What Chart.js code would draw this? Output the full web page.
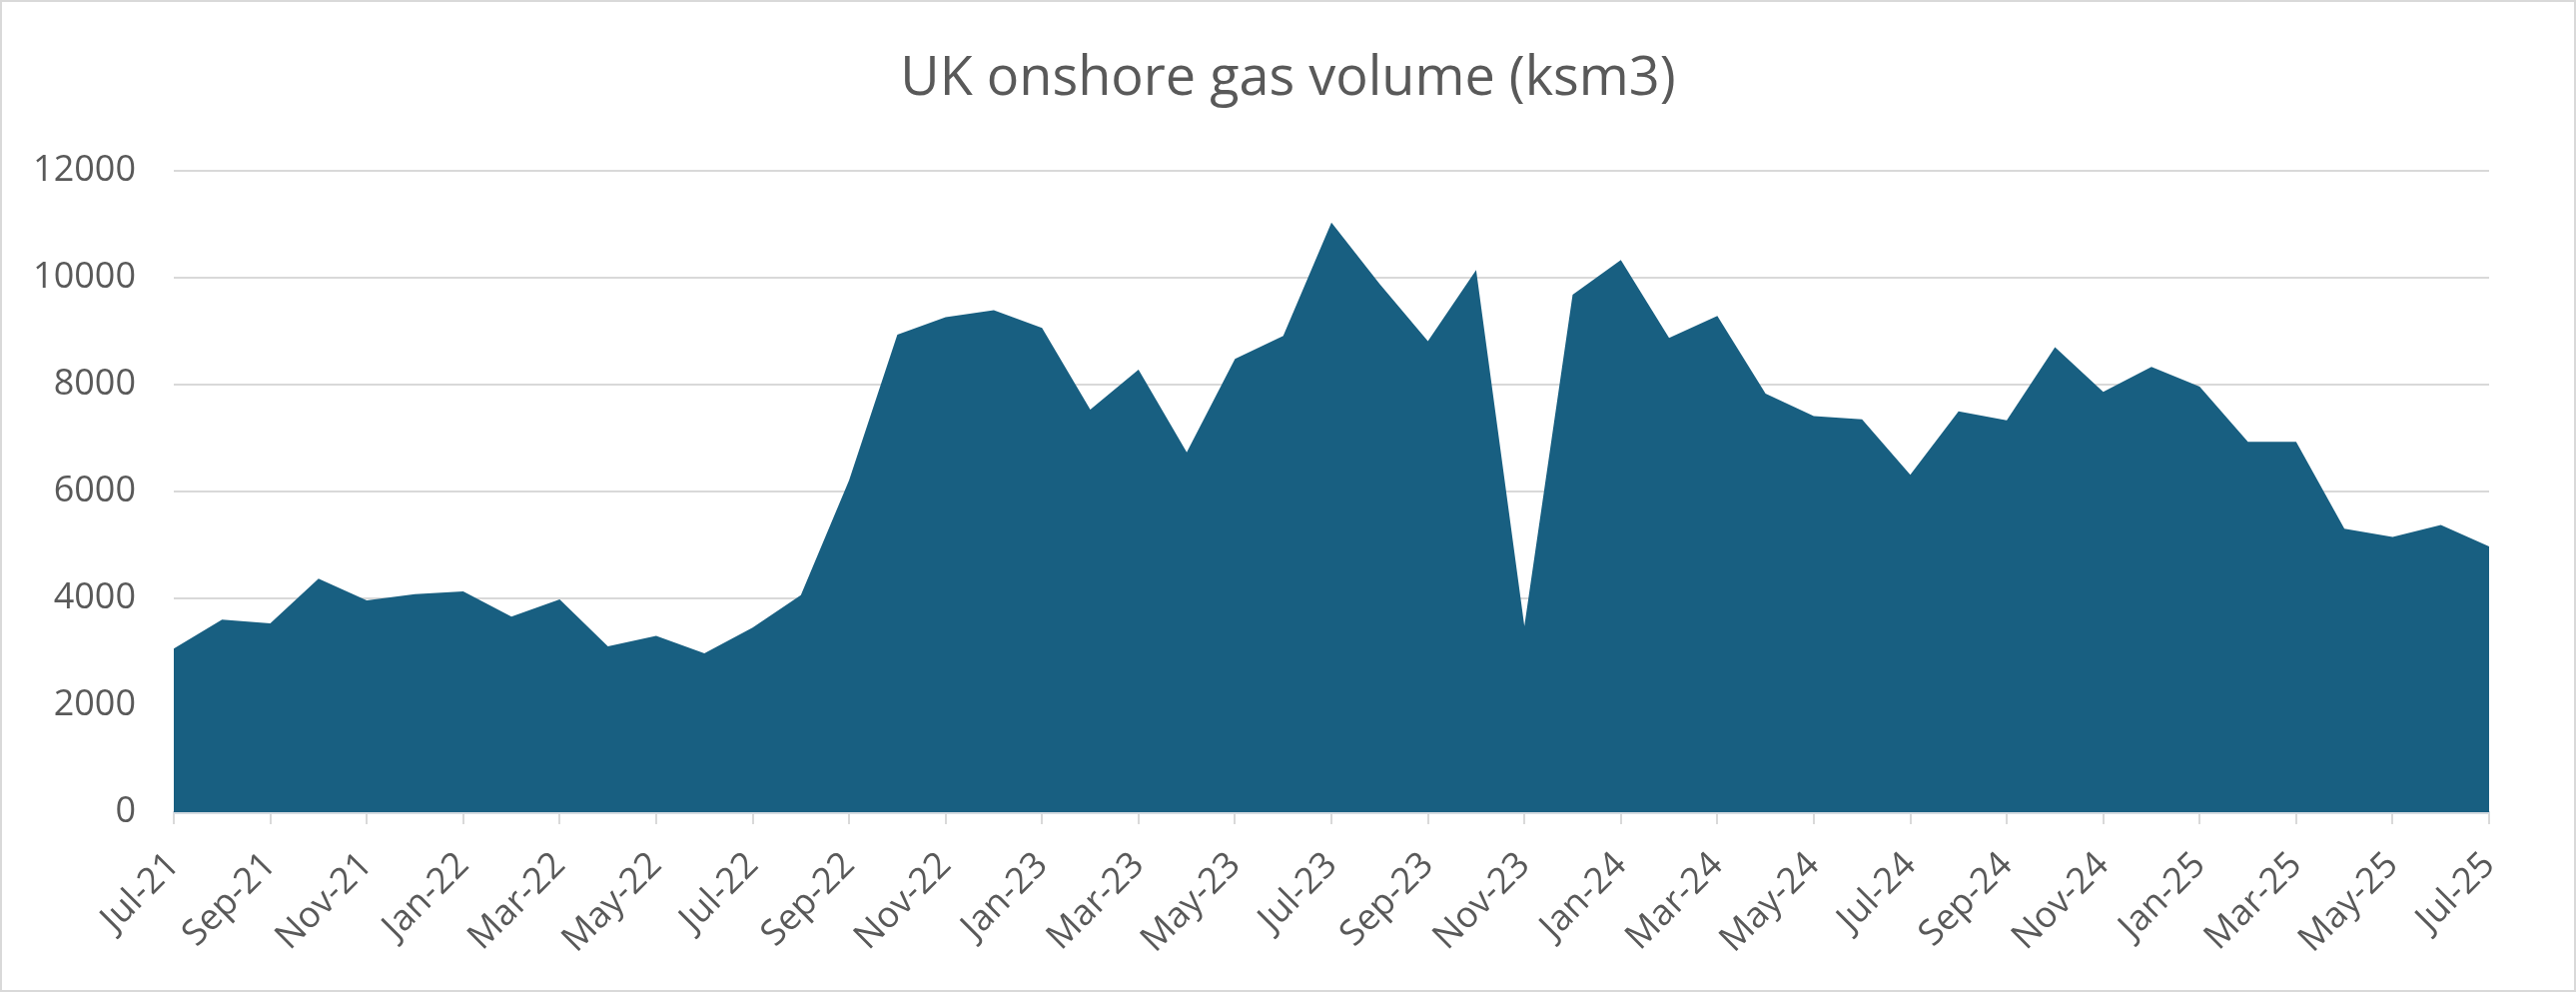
<!DOCTYPE html>
<html>
<head>
<meta charset="utf-8">
<script src="https://cdn.jsdelivr.net/npm/chart.js@4"></script>
<style>
  html, body { margin: 0; padding: 0; background: #fff; }
  #wrap { width: 2579px; height: 993px; box-sizing: border-box; border: 2px solid #d9d9d9; background: #fff; }
  #wrap canvas { display: block; }
</style>
</head>
<body>
<div id="wrap"><canvas id="gasChart" width="2575" height="989"></canvas></div>
<script>
const months = [
    'Jul-21', 'Aug-21', 'Sep-21', 'Oct-21', 'Nov-21', 'Dec-21',
    'Jan-22', 'Feb-22', 'Mar-22', 'Apr-22', 'May-22', 'Jun-22',
    'Jul-22', 'Aug-22', 'Sep-22', 'Oct-22', 'Nov-22', 'Dec-22',
    'Jan-23', 'Feb-23', 'Mar-23', 'Apr-23', 'May-23', 'Jun-23',
    'Jul-23', 'Aug-23', 'Sep-23', 'Oct-23', 'Nov-23', 'Dec-23',
    'Jan-24', 'Feb-24', 'Mar-24', 'Apr-24', 'May-24', 'Jun-24',
    'Jul-24', 'Aug-24', 'Sep-24', 'Oct-24', 'Nov-24', 'Dec-24',
    'Jan-25', 'Feb-25', 'Mar-25', 'Apr-25', 'May-25', 'Jun-25',
    'Jul-25'
];

const gasVolume = [
    3060, 3600, 3530, 4370, 3960, 4080,
    4130, 3660, 3980, 3100, 3300, 2970,
    3450, 4060, 6210, 8930, 9260, 9390,
    9060, 7530, 8280, 6730, 8480, 8910,
    11030, 9880, 8810, 10140, 3480, 9680,
    10330, 8870, 9280, 7830, 7410, 7350,
    6310, 7500, 7330, 8700, 7860, 8330,
    7960, 6930, 6930, 5300, 5150, 5370,
    4970
];

const chartTitle = 'UK onshore gas volume (ksm3)';
const yTicks = [0, 2000, 4000, 6000, 8000, 10000, 12000];

const TEXT_COLOR = '#595959';
const GRID_COLOR = '#d9d9d9';
const FILL_COLOR = '#185f81';
const FONT = "'Open Sans', 'Liberation Sans', sans-serif";

const ctx = document.getElementById('gasChart').getContext('2d');
new Chart(ctx, {
    type: 'line',
    data: {
        labels: months,
        datasets: [{
            label: 'Gas volume',
            data: gasVolume,
            fill: 'origin',
            backgroundColor: FILL_COLOR,
            borderColor: FILL_COLOR,
            borderWidth: 0,
            pointRadius: 0,
            tension: 0
        }]
    },
    options: {
        responsive: false,
        animation: false,
        layout: { padding: 0 },
        plugins: {
            legend: { display: false },
            tooltip: { enabled: false },
            title: {
                display: true,
                text: chartTitle,
                color: TEXT_COLOR,
                font: { family: FONT, size: 54, weight: 'normal', lineHeight: 1.2 },
                padding: { top: 45, bottom: 59 }
            }
        },
        scales: {
            x: {
                offset: false,
                grid: { display: true, drawOnChartArea: false, drawTicks: true, tickLength: 12, color: GRID_COLOR, lineWidth: 2 },
                border: { display: true, color: '#d5dbe1', width: 3 },
                ticks: {
                    autoSkip: false,
                    maxRotation: 45,
                    minRotation: 45,
                    padding: 20,
                    color: TEXT_COLOR,
                    font: { family: FONT, size: 36 },
                    callback: (val, i) => (i % 2 === 0 ? months[i] : null)
                },
                afterFit: (scale) => { scale.height = 178; }
            },
            y: {
                min: 0,
                max: 12000,
                afterBuildTicks: (scale) => { scale.ticks = yTicks.map(v => ({ value: v })); },
                grid: { color: GRID_COLOR, lineWidth: 2, drawTicks: false },
                border: { display: false },
                ticks: {
                    padding: 38,
                    color: TEXT_COLOR,
                    font: { family: FONT, size: 36 },
                    callback: (val) => String(val)
                },
                afterFit: (scale) => { scale.width = 172; }
            },
            // empty right-hand gutter so the title stays centred on the whole canvas
            yRight: {
                position: 'right',
                min: 0,
                max: 12000,
                grid: { display: false },
                border: { display: false },
                ticks: { display: false },
                afterFit: (scale) => { scale.width = 85; }
            }
        }
    }
});
</script>
</body>
</html>
